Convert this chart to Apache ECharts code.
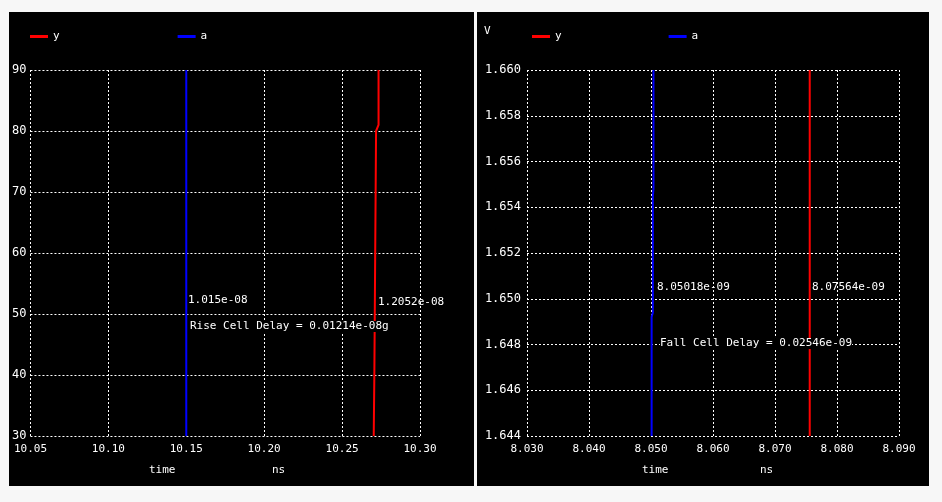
<!DOCTYPE html>
<html>
<head>
<meta charset="utf-8">
<script src="https://cdn.jsdelivr.net/npm/echarts@6/dist/echarts.min.js"></script>
<style>
  body { margin: 0; background: #f7f7f7; width: 942px; height: 502px; position: relative; overflow: hidden; }
  #rise { position: absolute; left: 9px; top: 12px; width: 465px; height: 474px; }
  #fall { position: absolute; left: 477px; top: 12px; width: 452px; height: 474px; }
</style>
</head>
<body>
<div id="rise"></div>
<div id="fall"></div>
<script>
  // rise panel
  const riseY = [[10.2703, 30], [10.2707, 40], [10.2718, 80], [10.2734, 81], [10.2734, 90]];
  const riseA = [[10.15, 30], [10.15, 90]];
  // fall panel
  const fallY = [[8.0756, 1.644], [8.0756, 1.660]];
  const fallA = [[8.0501, 1.644], [8.0501, 1.6492], [8.0503, 1.6494], [8.0503, 1.6545], [8.0504, 1.6548], [8.0504, 1.660]];

  const riseLabels = ["1.015e-08", "1.2052e-08", "Rise Cell Delay = 0.01214e-08g"];
  const fallLabels = ["8.05018e-09", "8.07564e-09", "Fall Cell Delay = 0.02546e-09"];

  const FONT = "DejaVu Sans Mono";

  function txt(x, y, s, bg) {
    return {
      type: "text", left: x, top: y, z: 100,
      style: { text: s, fill: "#fff", font: "11px " + FONT, backgroundColor: bg ? "#000" : null }
    };
  }

  function buildOption(cfg) {
    return {
      backgroundColor: "#000",
      animation: false,
      textStyle: { fontFamily: FONT },
      legend: {
        left: cfg.legendLeft, top: 14, itemWidth: 18, itemHeight: 3, itemGap: cfg.legendGap,
        icon: "rect", textStyle: { color: "#fff", fontSize: 11, fontFamily: FONT },
        data: ["y", "a"]
      },
      grid: { left: cfg.gridLeft, right: cfg.gridRight, top: 58, bottom: 50 },
      xAxis: {
        type: "value", min: cfg.xMin, max: cfg.xMax, interval: cfg.xStep,
        axisLine: { show: false }, axisTick: { show: false },
        axisLabel: { color: "#fff", fontSize: 11, fontFamily: FONT, margin: 8,
          formatter: v => v.toFixed(cfg.xDec) },
        splitLine: { lineStyle: { color: "#fff", type: [2, 2], width: 1 } }
      },
      yAxis: {
        type: "value", min: cfg.yMin, max: cfg.yMax, interval: cfg.yStep,
        axisLine: { show: false }, axisTick: { show: false },
        axisLabel: { color: "#fff", fontSize: 12, fontFamily: FONT, margin: cfg.yMargin,
          formatter: v => v.toFixed(cfg.yDec) },
        splitLine: { lineStyle: { color: "#fff", type: [2, 2], width: 1 } }
      },
      series: [
        { name: "y", type: "line", data: cfg.y, showSymbol: false, lineStyle: { color: "#ff0000", width: 2 }, itemStyle: { color: "#ff0000" } },
        { name: "a", type: "line", data: cfg.a, showSymbol: false, lineStyle: { color: "#0000ff", width: 2 }, itemStyle: { color: "#0000ff" } }
      ],
      graphic: cfg.graphic
    };
  }

  const riseChart = echarts.init(document.getElementById("rise"));
  riseChart.setOption(buildOption({
    legendLeft: 16, legendGap: 118, gridLeft: 16, gridRight: 54,
    xMin: 10.05, xMax: 10.30, xStep: 0.05, xDec: 2,
    yMin: 30, yMax: 90, yStep: 10, yDec: 0, yMargin: 4,
    y: riseY, a: riseA,
    graphic: [
      txt(179, 283, riseLabels[0]),
      txt(369, 285, riseLabels[1]),
      txt(181, 309, riseLabels[2], true),
      txt(140, 453, "time"),
      txt(263, 453, "ns")
    ]
  }));

  const fallChart = echarts.init(document.getElementById("fall"));
  fallChart.setOption(buildOption({
    legendLeft: 50, legendGap: 107, gridLeft: 50, gridRight: 30,
    xMin: 8.03, xMax: 8.09, xStep: 0.01, xDec: 3,
    yMin: 1.644, yMax: 1.660, yStep: 0.002, yDec: 3, yMargin: 6,
    y: fallY, a: fallA,
    graphic: [
      txt(7, 14, "V"),
      txt(180, 270, fallLabels[0]),
      txt(335, 270, fallLabels[1]),
      txt(183, 326, fallLabels[2], true),
      txt(165, 453, "time"),
      txt(283, 453, "ns")
    ]
  }));
</script>
</body>
</html>
